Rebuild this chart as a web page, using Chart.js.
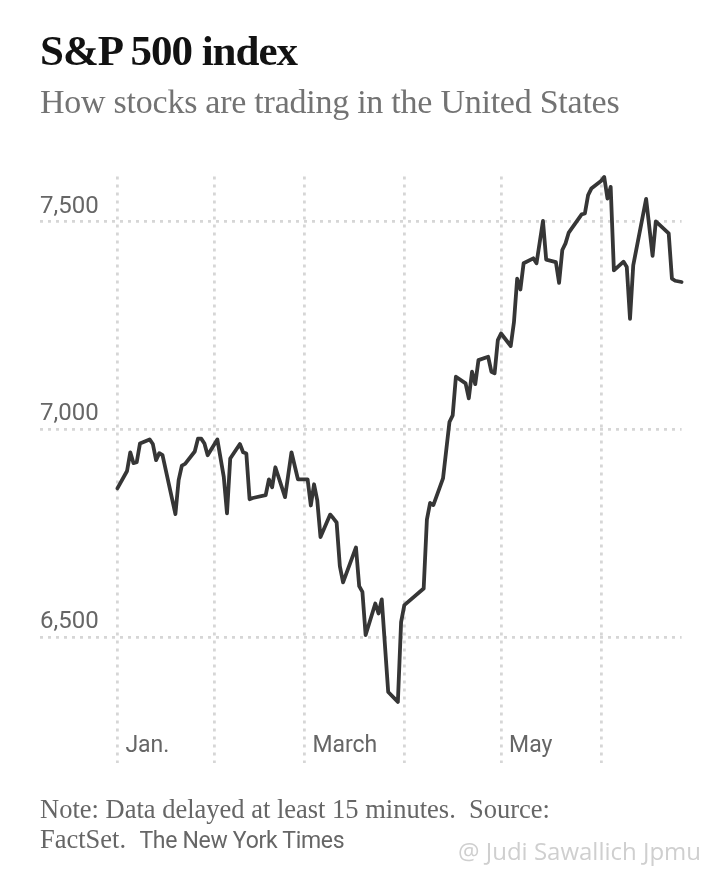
<!DOCTYPE html>
<html>
<head>
<meta charset="utf-8">
<script src="https://cdn.jsdelivr.net/npm/chart.js@4.4.1/dist/chart.umd.min.js"></script>
<style>
  html, body { margin: 0; padding: 0; background: #fff; }
  body { width: 708px; height: 877px; position: relative; overflow: hidden; }
  #wrap { position: absolute; left: 0; top: 0; width: 708px; height: 877px; }
  .txt { position: absolute; left: 40px; white-space: nowrap; }
  #title { top: 29px; font: bold 43px/43px "Liberation Serif", serif; color: #121212; letter-spacing: -1px; }
  #subtitle { top: 84.5px; font: 34px/34px "Liberation Serif", serif; color: #737373; letter-spacing: -0.25px; }
  #note { top: 794px; font: 26.5px/30px "Liberation Serif", serif; color: #666; }
  #note .sans { font-family: Roboto, sans-serif; font-size: 23px; letter-spacing: -0.3px; }
  #mark { left: 458px; top: 836px; font: 24px/30px "Open Sans", sans-serif; color: #cfcfcf; }
</style>
</head>
<body>
<div id="wrap"><canvas id="chart"></canvas></div>
<div class="txt" id="title">S&amp;P 500 index</div>
<div class="txt" id="subtitle">How stocks are trading in the United States</div>
<div class="txt" id="note">Note: Data delayed at least 15 minutes.&nbsp; Source:<br>FactSet.&nbsp; <span class="sans">The New York Times</span></div>
<div class="txt" id="mark">@ Judi Sawallich Jpmu</div>
<script>
// daily closes, 2026 (MM-DD)
const dates = [
  '01-02', '01-05', '01-06', '01-07', '01-08', '01-09', '01-12', '01-13', '01-14', '01-15',
  '01-16', '01-20', '01-21', '01-22', '01-23', '01-26', '01-27', '01-28', '01-29', '01-30',
  '02-02', '02-04', '02-05', '02-06', '02-09', '02-10', '02-11', '02-12', '02-13', '02-17',
  '02-18', '02-19', '02-20', '02-23', '02-25', '02-27', '03-02', '03-03', '03-04', '03-05',
  '03-06', '03-09', '03-10', '03-11', '03-12', '03-13', '03-17', '03-18', '03-19', '03-20',
  '03-23', '03-24', '03-25', '03-27', '03-30', '03-31', '04-01', '04-07', '04-08', '04-09',
  '04-10', '04-13', '04-15', '04-16', '04-17', '04-20', '04-21', '04-22', '04-23', '04-24',
  '04-27', '04-28', '04-29', '04-30', '05-01', '05-04', '05-05', '05-06', '05-07', '05-08',
  '05-11', '05-12', '05-14', '05-15', '05-18', '05-19', '05-20', '05-21', '05-22', '05-26',
  '05-27', '05-28', '05-29', '06-01', '06-02', '06-03', '06-04', '06-05', '06-08', '06-09',
  '06-10', '06-11', '06-15', '06-17', '06-18', '06-22', '06-23', '06-24', '06-26'
];
const closes = [
  6858, 6900, 6945, 6919, 6921, 6966, 6976, 6965, 6926, 6943,
  6938, 6796, 6878, 6913, 6917, 6947, 6978, 6978, 6966, 6938,
  6976, 6886, 6798, 6930, 6965, 6945, 6942, 6832, 6835, 6842,
  6880, 6861, 6909, 6837, 6945, 6880, 6880, 6817, 6868, 6829,
  6741, 6795, 6786, 6776, 6671, 6632, 6716, 6623, 6609, 6505,
  6581, 6557, 6591, 6368, 6344, 6536, 6577, 6617, 6783, 6823,
  6818, 6882, 7018, 7034, 7127, 7111, 7075, 7139, 7109, 7167,
  7175, 7139, 7135, 7215, 7231, 7201, 7258, 7363, 7337, 7400,
  7412, 7400, 7502, 7409, 7403, 7353, 7432, 7448, 7474, 7518,
  7520, 7564, 7580, 7598, 7608, 7556, 7584, 7383, 7404, 7391,
  7266, 7395, 7555, 7418, 7501, 7472, 7363, 7358, 7355
];

const yTicks = [6500, 7000, 7500];
const monthTickDates = ['01-02', '02-01', '03-01', '04-01', '05-01', '06-01'];
const monthLabels = ['Jan.', '', 'March', '', 'May', ''];

// days since Jan 1
function dayOf(md) {
  const [m, d] = md.split('-').map(Number);
  return (Date.UTC(2026, m - 1, d) - Date.UTC(2026, 0, 1)) / 86400000;
}

const points = dates.map((d, i) => ({ x: dayOf(d), y: closes[i] }));
const monthTicks = monthTickDates.map(dayOf);

const gridColor = '#d6d6d6';
const labelColor = '#666666';

new Chart(document.getElementById('chart'), {
  type: 'line',
  data: {
    datasets: [{
      data: points,
      borderColor: '#363636',
      borderWidth: 3.8,
      borderJoinStyle: 'round',
      borderCapStyle: 'round',
      pointRadius: 0,
      tension: 0,
      clip: false
    }]
  },
  options: {
    responsive: true,
    maintainAspectRatio: false,
    animation: false,
    layout: { padding: { left: 40, top: 176.5, right: 26.4, bottom: 114 } },
    plugins: { legend: { display: false }, tooltip: { enabled: false } },
    scales: {
      x: {
        type: 'linear',
        min: -23,
        max: 176,
        afterBuildTicks: scale => { scale.ticks = monthTicks.map(v => ({ value: v })); },
        afterFit: scale => { scale.height = 0; },
        grid: { color: gridColor, lineWidth: 2.8, drawTicks: false },
        border: { display: false, dash: [3, 5] },
        ticks: {
          mirror: true,
          align: 'start',
          labelOffset: 8,
          padding: 3,
          autoSkip: false,
          maxRotation: 0,
          minRotation: 0,
          color: labelColor,
          font: { family: 'Roboto', size: 23 },
          callback: (value, index) => monthLabels[index]
        }
      },
      y: {
        min: 6197,
        max: 7609,
        afterBuildTicks: scale => { scale.ticks = yTicks.map(v => ({ value: v })); },
        afterFit: scale => { scale.width = 0; },
        grid: { color: gridColor, lineWidth: 2.8, drawTicks: false },
        border: { display: false, dash: [3, 5] },
        ticks: {
          mirror: true,
          padding: 0,
          labelOffset: -15,
          color: labelColor,
          font: { family: 'Roboto', size: 24 },
          callback: value => value.toLocaleString('en-US')
        }
      }
    }
  }
});
</script>
</body>
</html>
